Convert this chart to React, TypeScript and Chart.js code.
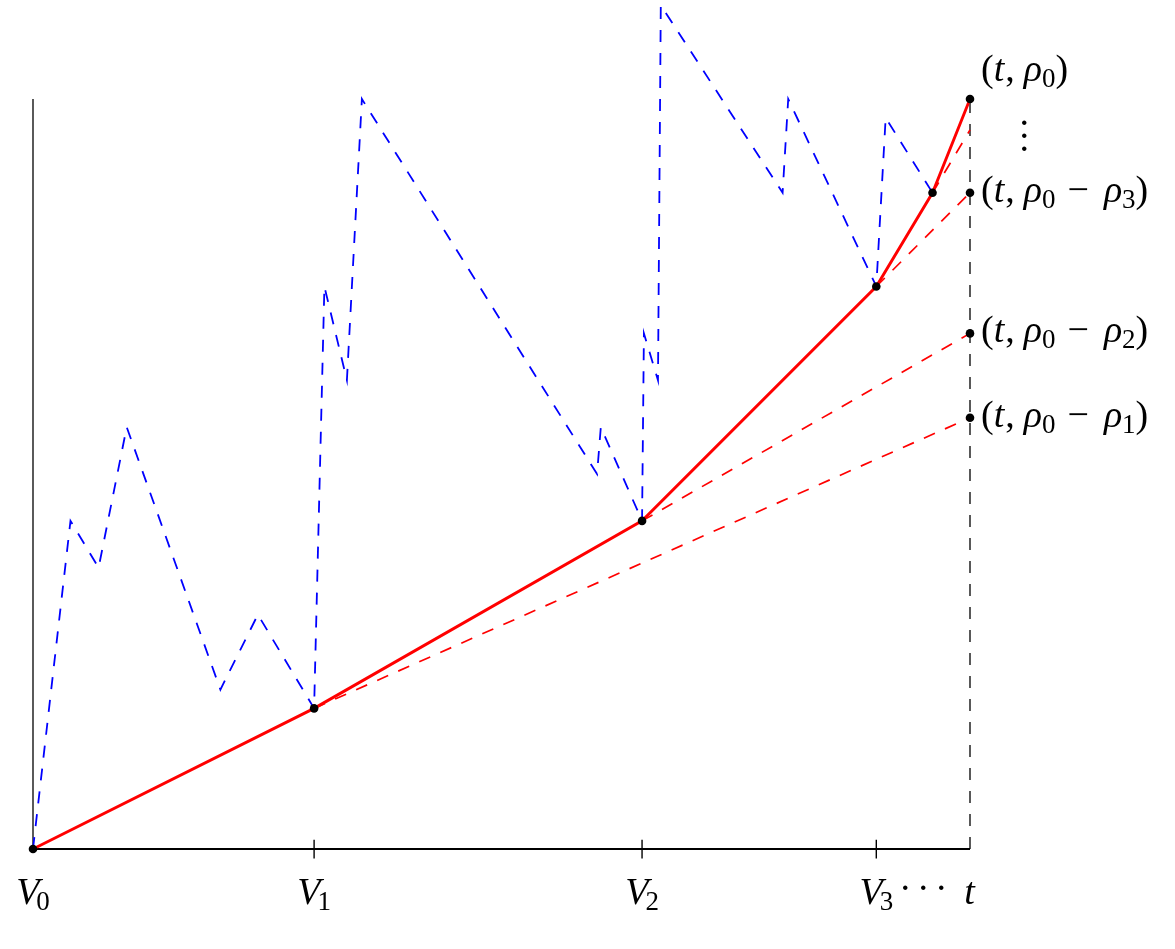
import React, { useEffect, useRef } from "react";
import { Chart, registerables } from "chart.js";
Chart.register(...registerables);

// ---------- data (figure units: t = 10, rho_0 = 8) ----------
const pathX = [0, 0.4, 0.7, 1.0, 2.0, 2.4, 3.0, 3.11, 3.35, 3.51, 6.02, 6.06, 6.5, 6.52, 6.67, 6.7, 8.0, 8.06, 9.0, 9.1, 9.6];
const pathY = [0, 3.5, 3.0, 4.5, 1.7, 2.5, 1.5, 6.0, 5.0, 8.0, 4.0, 4.5, 3.5, 5.5, 5.0, 9.0, 7.0, 8.0, 6.0, 7.8, 7.0];
const hullX = [0, 3, 6.5, 9, 9.6, 10];
const hullY = [0, 1.5, 3.5, 6, 7, 8];
const extFromIdx = [1, 2, 3, 4];
const extEndY = [4.6, 5.5, 7.0, 7.67];
const tValue = 10;
const rho0 = 8;
const tickX = [3, 6.5, 9];
const bottomLabelX = [0, 3, 6.5, 9, 9.5, 10];
const bottomLabels = ["V_0", "V_1", "V_2", "V_3", "\\cdots", "t"];
const rightLabelY = [8, 7, 5.5, 4.6];
const rightLabels = ["(t, \\rho_0)", "(t, \\rho_0 - \\rho_3)", "(t, \\rho_0 - \\rho_2)", "(t, \\rho_0 - \\rho_1)"];
const vdotsX = 10.58;
const vdotsY = 7.62;

// ---------- layout / style ----------
const W = 1175;
const H = 949;
const UX = 93.7;
const UY = 93.75;
const XMIN = -33 / UX;
const XMAX = XMIN + W / UX;
const YMAX = 849 / UY;
const YMIN = YMAX - H / UY;

const MAIN = 38;
const SUB = 27;
const SUBSHIFT = 6;
const FONT = '"Liberation Serif", "Times New Roman", serif';
const DASH = [12, 11];

type Seg = { t: string; it?: boolean; sub?: boolean; pre?: number; post?: number };

function parseTex(s: string): Seg[] {
  const out: Seg[] = [];
  let i = 0;
  let prev = "";
  while (i < s.length) {
    const c = s[i];
    if (c === "\\") {
      let j = i + 1;
      while (j < s.length && /[a-zA-Z]/.test(s[j])) j++;
      const cmd = s.slice(i + 1, j);
      i = j;
      if (cmd === "rho") {
        out.push({ t: "ρ", it: true });
        prev = "ρ";
      }
      continue;
    }
    if (c === " ") {
      i++;
      continue;
    }
    if (c === "_") {
      const ch = s[i + 1];
      out.push({ t: ch, sub: true, it: /[a-zA-Z]/.test(ch), pre: prev === "V" ? -3 : 0 });
      i += 2;
      continue;
    }
    if (c === ",") {
      out.push({ t: ",", post: 9 });
    } else if (c === "-") {
      out.push({ t: "−", pre: 12, post: 15 });
    } else if (/[a-zA-Z]/.test(c)) {
      out.push({ t: c, it: true, post: c === "t" ? 1 : 0 });
    } else {
      out.push({ t: c });
    }
    prev = c;
    i++;
  }
  return out;
}

function fontOf(g: Seg) {
  return `${g.it ? "italic " : ""}${g.sub ? SUB : MAIN}px ${FONT}`;
}

function drawTex(ctx: CanvasRenderingContext2D, s: string, x: number, y: number, align: "left" | "center") {
  const segs = parseTex(s);
  let w = 0;
  for (const g of segs) {
    ctx.font = fontOf(g);
    w += (g.pre || 0) + ctx.measureText(g.t).width + (g.post || 0);
  }
  let cx = align === "center" ? x - w / 2 : x;
  for (const g of segs) {
    cx += g.pre || 0;
    ctx.font = fontOf(g);
    ctx.fillText(g.t, cx, y + (g.sub ? SUBSHIFT : 0));
    cx += ctx.measureText(g.t).width + (g.post || 0);
  }
}

function drawDots(ctx: CanvasRenderingContext2D, cx: number, cy: number, step: number, vertical: boolean) {
  ctx.font = `${MAIN}px ${FONT}`;
  ctx.textAlign = "center";
  for (let k = -1; k <= 1; k++) {
    const x = vertical ? cx : cx + k * step;
    const y = vertical ? cy + k * step : cy;
    ctx.fillText(".", x, y + 3);
  }
  ctx.textAlign = "left";
}

const labelPlugin = {
  id: "texLabels",
  afterDraw(chart: any) {
    const ctx: CanvasRenderingContext2D = chart.ctx;
    const xs = chart.scales.x;
    const ys = chart.scales.y;
    ctx.save();
    ctx.fillStyle = "#000";
    ctx.textBaseline = "alphabetic";
    ctx.textAlign = "left";
    const base = ys.getPixelForValue(0);
    bottomLabels.forEach((lab, i) => {
      const px = xs.getPixelForValue(bottomLabelX[i]);
      if (lab === "\\cdots") {
        drawDots(ctx, px, base + 38, 18, false);
      } else {
        drawTex(ctx, lab, px, base + 55, "center");
      }
    });
    const rx = xs.getPixelForValue(tValue) + 11;
    rightLabels.forEach((lab, i) => {
      const py = ys.getPixelForValue(rightLabelY[i]);
      const dy = rightLabelY[i] === rho0 ? -18 : 9;
      drawTex(ctx, lab, rx, py + dy, "left");
    });
    drawDots(ctx, xs.getPixelForValue(vdotsX), ys.getPixelForValue(vdotsY), 13, true);
    ctx.restore();
  },
};

export default function App() {
  const ref = useRef<HTMLCanvasElement>(null);
  useEffect(() => {
    document.body.style.margin = "0";
    const canvas = ref.current!;
    const pts = (xs: number[], ys: number[]) => xs.map((x, i) => ({ x, y: ys[i] }));
    const line = (data: any[], color: string, width: number, order: number, dash: number[] = []) => ({
      data,
      showLine: true,
      borderColor: color,
      backgroundColor: color,
      borderWidth: width,
      borderDash: dash,
      pointRadius: 0,
      pointHoverRadius: 0,
      tension: 0,
      fill: false,
      clip: false as const,
      order,
    });

    const datasets: any[] = [];
    // axes
    datasets.push(line([{ x: 0, y: 0 }, { x: 0, y: rho0 }], "#000", 1.3, 20));
    datasets.push(line([{ x: 0, y: 0 }, { x: tValue, y: 0 }], "#000", 2.2, 20));
    datasets.push(line([{ x: tValue, y: 0 }, { x: tValue, y: rho0 }], "#000", 1.3, 20, DASH));
    tickX.forEach((tx) => datasets.push(line([{ x: tx, y: -0.1 }, { x: tx, y: 0.1 }], "#000", 1.4, 20)));
    // random path
    datasets.push(line(pts(pathX, pathY), "#0000ff", 1.8, 10, DASH));
    // dashed extensions
    extFromIdx.forEach((k, i) =>
      datasets.push(line([{ x: hullX[k], y: hullY[k] }, { x: tValue, y: extEndY[i] }], "#ff0000", 1.7, 8, DASH))
    );
    // solid hull
    datasets.push(line(pts(hullX, hullY), "#ff0000", 2.9, 6));
    // dots
    const dotData = [...pts(hullX, hullY), ...rightLabelY.filter((v) => v !== rho0).map((y) => ({ x: tValue, y }))];
    datasets.push({
      data: dotData,
      showLine: false,
      pointRadius: 4.3,
      pointHoverRadius: 4.3,
      pointBackgroundColor: "#000",
      pointBorderWidth: 0,
      clip: false,
      order: 0,
    });

    const chart = new Chart(canvas, {
      type: "scatter",
      data: { datasets },
      options: {
        animation: false,
        responsive: false,
        events: [],
        layout: { padding: 0, autoPadding: false },
        scales: {
          x: { type: "linear", min: XMIN, max: XMAX, display: false },
          y: { type: "linear", min: YMIN, max: YMAX, display: false },
        },
        plugins: { legend: { display: false }, tooltip: { enabled: false } },
      } as any,
      plugins: [labelPlugin],
    });
    return () => chart.destroy();
  }, []);
  return (
    <div style={{ position: "absolute", left: 0, top: 0, width: W, height: H, background: "#fff" }}>
      <canvas ref={ref} width={W} height={H} style={{ display: "block", width: W, height: H }} />
    </div>
  );
}
